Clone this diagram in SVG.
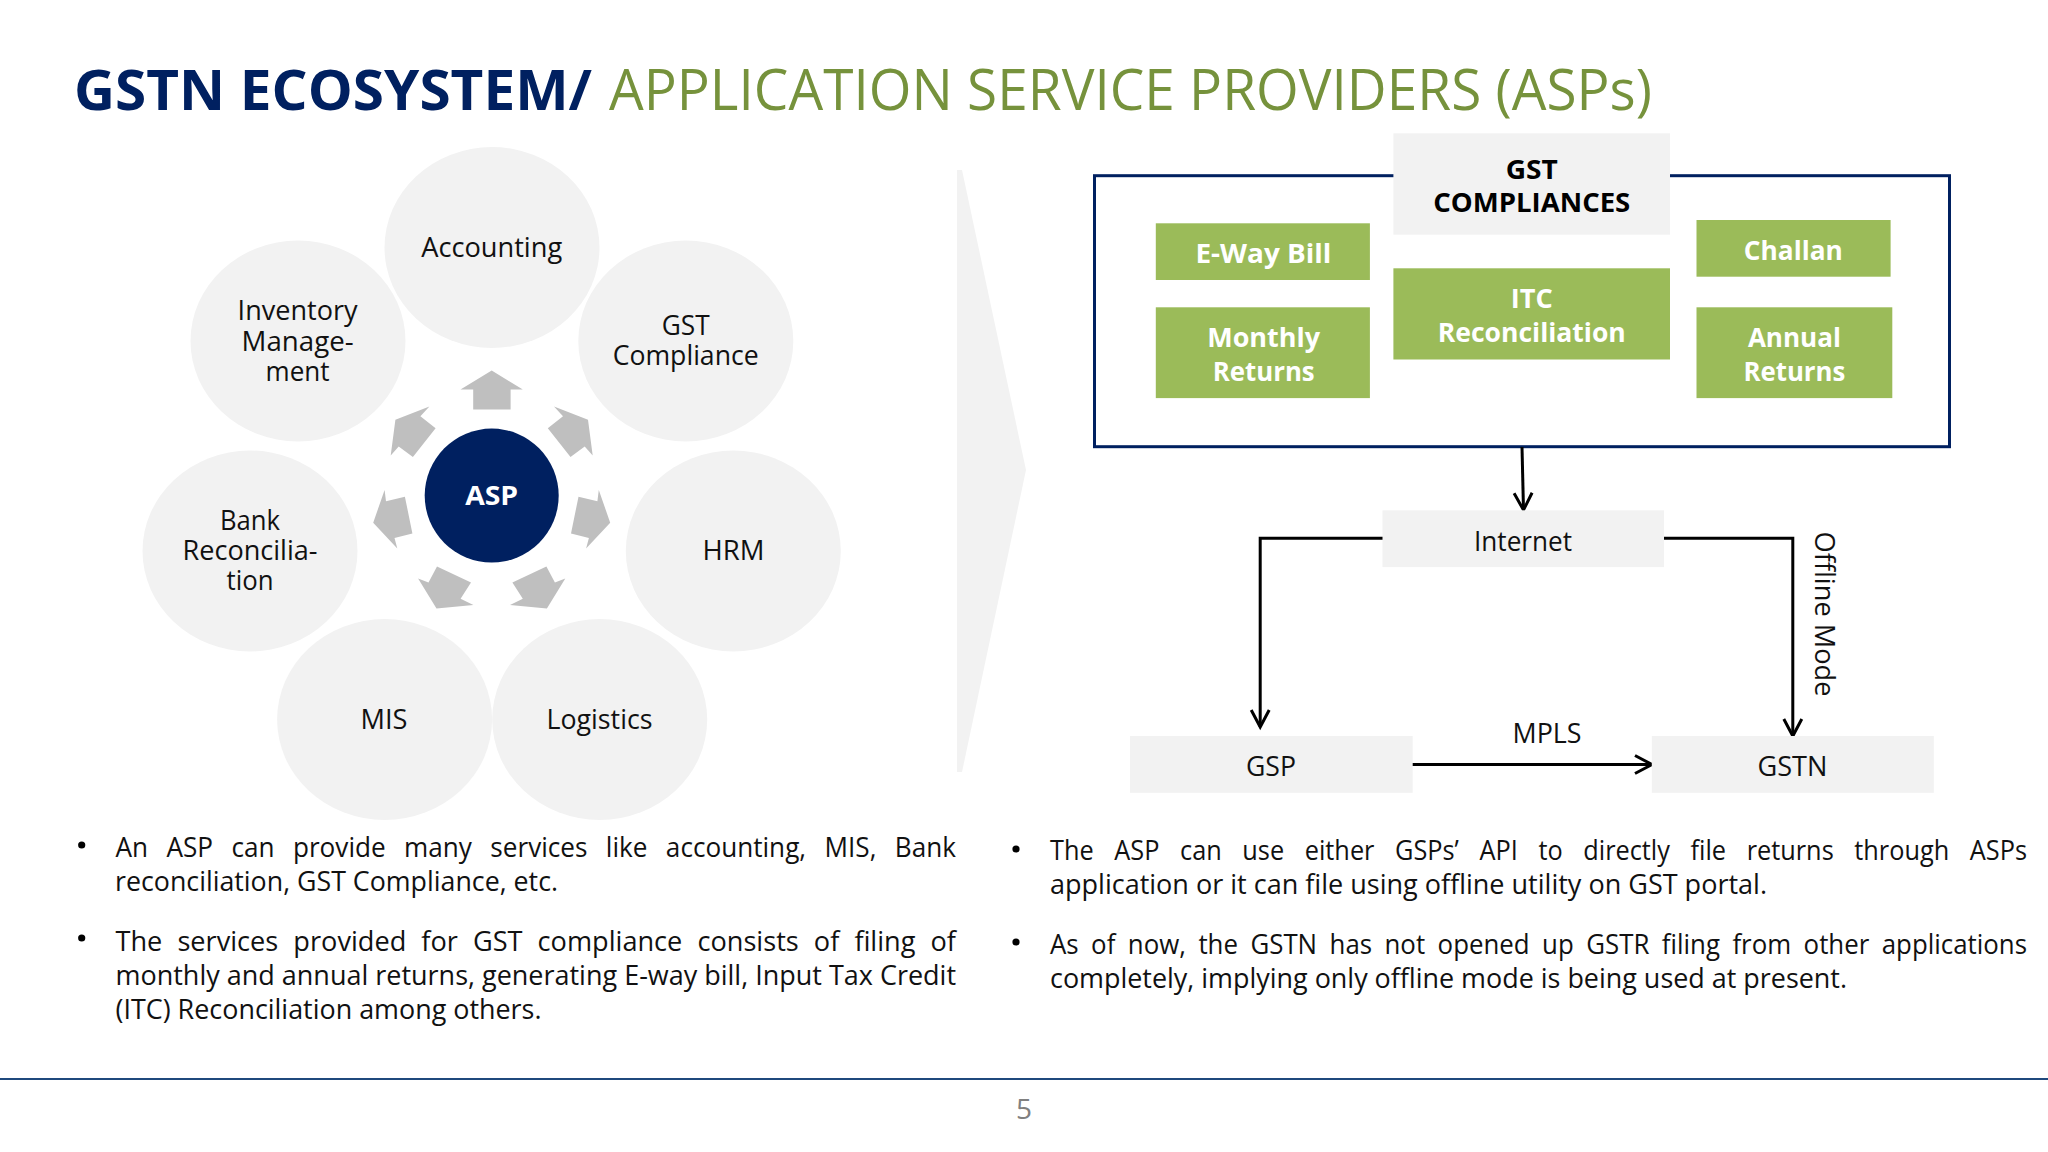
<svg xmlns="http://www.w3.org/2000/svg" width="2048" height="1152" viewBox="0 0 2048 1152">
<style>
text{font-family:"Open Sans","Noto Sans","Liberation Sans",sans-serif;fill:#000}
.t{font-size:27px;fill:#111}
.l{font-size:27px;text-anchor:middle;fill:#111}
.b{font-size:27px;font-weight:700;text-anchor:middle}
.w{fill:#fff}
.c{fill:#f2f2f2}
.g{fill:#9bbb59}
.a{fill:#bfbfbf}
.ln{fill:none;stroke:#000;stroke-width:3}
</style>
<defs>
<marker id="v" markerUnits="userSpaceOnUse" markerWidth="24" markerHeight="24" refX="19" refY="12" orient="auto">
<path d="M2 3L19 12L2 21" fill="none" stroke="#000" stroke-width="3"/>
</marker>
<polygon id="arU" points="491.7,370.6 522.8,389.4 510.6,389.4 510.6,409.5 473.2,409.5 473.2,389.4 460.5,389.4"/>
<polygon id="arUR" points="554,406.4 588,419.8 592.7,455.6 584.7,446.6 570.5,456.9 547.8,428.3 563,416.2"/>
<polygon id="arR" points="598.8,490 610.2,522.7 586.1,548.6 588.9,537.9 571,533.4 578.5,496.7 597.4,501.2"/>
<polygon id="arDR" points="565.3,578.6 546.9,608.5 510,605 522.8,598.7 512.4,582.6 546.4,566.5 554.9,582.6"/>
</defs>
<rect width="2048" height="1152" fill="#fff"/>
<g id="title">
<text x="74" y="109.5" font-size="56" font-weight="700" style="fill:#002060" textLength="518" lengthAdjust="spacingAndGlyphs">GSTN ECOSYSTEM/</text>
<text x="609" y="109.5" font-size="56" style="fill:#76923c" textLength="1043" lengthAdjust="spacingAndGlyphs">APPLICATION SERVICE PROVIDERS (ASPs)</text>
</g>
<g id="hub-arrows" class="a">
<use href="#arU"/><use href="#arUR"/><use href="#arR"/><use href="#arDR"/>
<g transform="matrix(-1 0 0 1 983.4 0)"><use href="#arUR"/><use href="#arR"/><use href="#arDR"/></g>
</g>
<g id="n-accounting"><ellipse class="c" cx="492" cy="247.5" rx="107.5" ry="100.5"/><text class="l" x="491.7" y="256.6" textLength="141" lengthAdjust="spacingAndGlyphs">Accounting</text></g>
<g id="n-gst"><ellipse class="c" cx="685.8" cy="341" rx="107.5" ry="100.5"/><text class="l" x="685.7" y="334.8" textLength="48" lengthAdjust="spacingAndGlyphs">GST</text><text class="l" x="685.7" y="365.2" textLength="146" lengthAdjust="spacingAndGlyphs">Compliance</text></g>
<g id="n-hrm"><ellipse class="c" cx="733.3" cy="551" rx="107.5" ry="100.5"/><text class="l" x="733.4" y="560" textLength="62" lengthAdjust="spacingAndGlyphs">HRM</text></g>
<g id="n-logistics"><ellipse class="c" cx="599.7" cy="719.5" rx="107.5" ry="100.5"/><text class="l" x="599.5" y="728.5" textLength="106" lengthAdjust="spacingAndGlyphs">Logistics</text></g>
<g id="n-mis"><ellipse class="c" cx="384.6" cy="719.5" rx="107.5" ry="100.5"/><text class="l" x="384" y="728.5" textLength="47" lengthAdjust="spacingAndGlyphs">MIS</text></g>
<g id="n-bank"><ellipse class="c" cx="250" cy="551" rx="107.5" ry="100.5"/><text class="l" x="250" y="530" textLength="60" lengthAdjust="spacingAndGlyphs">Bank</text><text class="l" x="250" y="559.7" textLength="135" lengthAdjust="spacingAndGlyphs">Reconcilia-</text><text class="l" x="250" y="590.3" textLength="47" lengthAdjust="spacingAndGlyphs">tion</text></g>
<g id="n-inventory"><ellipse class="c" cx="298" cy="341" rx="107.5" ry="100.5"/><text class="l" x="297.6" y="320" textLength="120" lengthAdjust="spacingAndGlyphs">Inventory</text><text class="l" x="297.6" y="350.5" textLength="112" lengthAdjust="spacingAndGlyphs">Manage-</text><text class="l" x="297.6" y="381" textLength="64" lengthAdjust="spacingAndGlyphs">ment</text></g>
<g id="n-asp"><circle cx="491.7" cy="495.6" r="67" fill="#002060"/><text class="b" style="fill:#fff" x="491.7" y="504.8" textLength="53" lengthAdjust="spacingAndGlyphs">ASP</text></g>
<polygon id="chevron" class="c" points="957,170 962,170 1026,470 962,772 957,772"/>
<g id="connectors">
<rect x="1094.5" y="175.7" width="855" height="271" fill="none" stroke="#002060" stroke-width="3"/>
<path class="ln" d="M1522 447L1523.5 510" marker-end="url(#v)"/>
<path class="ln" d="M1383.6 538.3H1260.2V727" marker-end="url(#v)"/>
<path class="ln" d="M1664 538.3H1792.8V736" marker-end="url(#v)"/>
<path class="ln" d="M1411 764.5H1652" marker-end="url(#v)"/>
</g>
<g id="n-gstcomp"><rect class="c" x="1393.4" y="133.3" width="276.6" height="101.4"/><text class="b" x="1531.8" y="178.8" textLength="52" lengthAdjust="spacingAndGlyphs">GST</text><text class="b" x="1531.8" y="212.2" textLength="197" lengthAdjust="spacingAndGlyphs">COMPLIANCES</text></g>
<g id="n-eway"><rect class="g" x="1155.8" y="223.3" width="214.1" height="56.7"/><text class="b" style="fill:#fff" x="1263.4" y="262.7" textLength="136" lengthAdjust="spacingAndGlyphs">E-Way Bill</text></g>
<g id="n-monthly"><rect class="g" x="1155.8" y="307.3" width="214.1" height="90.8"/><text class="b" style="fill:#fff" x="1263.7" y="346.7" textLength="113" lengthAdjust="spacingAndGlyphs">Monthly</text><text class="b" style="fill:#fff" x="1263.7" y="380.7" textLength="102" lengthAdjust="spacingAndGlyphs">Returns</text></g>
<g id="n-itc"><rect class="g" x="1393.4" y="268.3" width="276.6" height="91.2"/><text class="b" style="fill:#fff" x="1531.8" y="307.7" textLength="42" lengthAdjust="spacingAndGlyphs">ITC</text><text class="b" style="fill:#fff" x="1531.8" y="341.7" textLength="188" lengthAdjust="spacingAndGlyphs">Reconciliation</text></g>
<g id="n-challan"><rect class="g" x="1696.5" y="220" width="194.1" height="56.7"/><text class="b" style="fill:#fff" x="1793.3" y="259.5" textLength="99" lengthAdjust="spacingAndGlyphs">Challan</text></g>
<g id="n-annual"><rect class="g" x="1696.5" y="307.3" width="195.8" height="90.8"/><text class="b" style="fill:#fff" x="1794.4" y="346.7" textLength="93" lengthAdjust="spacingAndGlyphs">Annual</text><text class="b" style="fill:#fff" x="1794.4" y="380.7" textLength="102" lengthAdjust="spacingAndGlyphs">Returns</text></g>
<g id="n-internet"><rect class="c" x="1382.5" y="510.3" width="281.5" height="56.8"/><text class="l" x="1523" y="551" textLength="98" lengthAdjust="spacingAndGlyphs">Internet</text></g>
<g id="n-gsp"><rect class="c" x="1130" y="736" width="282.7" height="56.8"/><text class="l" x="1271" y="776" textLength="50" lengthAdjust="spacingAndGlyphs">GSP</text></g>
<g id="n-gstn"><rect class="c" x="1651.8" y="736" width="282" height="56.8"/><text class="l" x="1792.5" y="776" textLength="70" lengthAdjust="spacingAndGlyphs">GSTN</text></g>
<text class="l" x="1547" y="743.2" textLength="69" lengthAdjust="spacingAndGlyphs">MPLS</text>
<text transform="translate(1815 531.5) rotate(90)" font-size="27" textLength="165" lengthAdjust="spacingAndGlyphs" style="fill:#111">Offline Mode</text>
<g id="notes-left">
<circle cx="81.7" cy="845" r="3.6"/><circle cx="81.7" cy="938" r="3.6"/>
<text class="t" x="115.5" y="856.7" word-spacing="12" textLength="840.5" lengthAdjust="spacingAndGlyphs">An ASP can provide many services like accounting, MIS, Bank</text>
<text class="t" x="115" y="890.7" textLength="443" lengthAdjust="spacingAndGlyphs">reconciliation, GST Compliance, etc.</text>
<text class="t" x="115.5" y="950.7" word-spacing="8" textLength="840.5" lengthAdjust="spacingAndGlyphs">The services provided for GST compliance consists of filing of</text>
<text class="t" x="115.5" y="984.7" textLength="840.5" lengthAdjust="spacingAndGlyphs">monthly and annual returns, generating E-way bill, Input Tax Credit</text>
<text class="t" x="115.5" y="1018.7" textLength="426" lengthAdjust="spacingAndGlyphs">(ITC) Reconciliation among others.</text>
</g>
<g id="notes-right">
<circle cx="1016" cy="849" r="3.6"/><circle cx="1016" cy="942" r="3.6"/>
<text class="t" transform="translate(1050 860.4) scale(.93 1)" word-spacing="15" textLength="1050.5" lengthAdjust="spacingAndGlyphs">The ASP can use either GSPs’ API to directly file returns through ASPs</text>
<text class="t" x="1050" y="894.4" textLength="717" lengthAdjust="spacingAndGlyphs">application or it can file using offline utility on GST portal.</text>
<text class="t" transform="translate(1050 954.4) scale(.93 1)" word-spacing="6" textLength="1050.5" lengthAdjust="spacingAndGlyphs">As of now, the GSTN has not opened up GSTR filing from other applications</text>
<text class="t" x="1050" y="988.4" textLength="797" lengthAdjust="spacingAndGlyphs">completely, implying only offline mode is being used at present.</text>
</g>
<g id="footer">
<rect x="0" y="1078" width="2048" height="2" fill="#1f497d"/>
<text x="1024" y="1119" font-size="28" text-anchor="middle" style="fill:#808080">5</text>
</g>
</svg>
